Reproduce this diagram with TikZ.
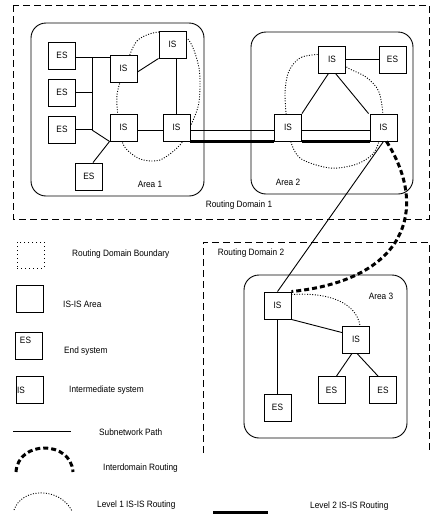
\documentclass[tikz,border=0pt]{standalone}
\usepackage{fontspec}
\setmainfont{Liberation Sans}[FakeStretch=0.9]
\usetikzlibrary{calc}
\begin{document}
\begin{tikzpicture}[x=1pt,y=-1pt,
 every node/.style={font=\fontsize{9.2}{10}\selectfont},
 sysbox/.style={draw,fill=white,minimum width=27pt,minimum height=27pt,inner sep=0pt,line width=0.9pt},
 areabox/.style={draw,rounded corners=15pt,line width=0.9pt},
 rdbox/.style={draw,line width=0.9pt,dash pattern=on 7pt off 4pt},
 cnx/.style={line width=0.9pt},
 lvone/.style={line width=0.9pt,dash pattern=on 1pt off 1.6pt},
 lvtwo/.style={line width=3pt},
 interdom/.style={line width=3pt,dash pattern=on 5pt off 3pt},
 lbl/.style={inner sep=0pt,text height=6.5pt,text depth=2pt}]
\fill[white] (0,0) rectangle (443,523);
\useasboundingbox (0,0) rectangle (443,523);

% domains and areas
\draw[rdbox] (13,5) rectangle (429,219);
\draw[rdbox] (203,453) -- (203,242) -- (429,242) -- (429,453);
\draw[areabox] (31,23) rectangle (204,196);
\draw[areabox] (251,32) rectangle (413,194);
\draw[areabox] (244,275) rectangle (407,438);

% level 1 routing loops
\draw[lvone] plot[smooth cycle] coordinates {(125,68) (137,41) (159,32) (187,38) (199,68) (199,102) (191,125) (180,145) (160,160) (140,159) (124,146) (119,125) (117,95)};
\draw[lvone] plot[smooth cycle] coordinates {(330,55) (302,57) (289,71) (285,95) (289,135) (300,158) (330,168) (357,164) (375,151) (383,122) (379,92) (366,77) (348,68)};

% Area 1
\node[sysbox] (ES1) at (62,55.5) {ES};
\node[sysbox] (ES2) at (62,92.5) {ES};
\node[sysbox] (ES3) at (62,129.5) {ES};
\node[sysbox] (ES4) at (89,176.5) {ES};
\node[sysbox] (ISa) at (123.5,68.5) {IS};
\node[sysbox] (ISb) at (172.5,44.5) {IS};
\node[sysbox] (ISc) at (123.5,127.5) {IS};
\node[sysbox] (ISd) at (176.5,127.5) {IS};
% Area 2
\node[sysbox] (ISt) at (332,59.5) {IS};
\node[sysbox] (ESt) at (392.5,59.5) {ES};
\node[sysbox] (ISe) at (288,127.5) {IS};
\node[sysbox] (ISf) at (383.5,127.5) {IS};
% Area 3
\node[sysbox] (ISg) at (277.5,305.5) {IS};
\node[sysbox] (ISh) at (356,339.5) {IS};
\node[sysbox] (ESi) at (277.5,407.5) {ES};
\node[sysbox] (ESj) at (331.5,390) {ES};
\node[sysbox] (ESk) at (383,390) {ES};

% Area 1 connections
\coordinate (busT) at (92,57);
\coordinate (busB) at (92,130);
\coordinate (e1) at ($(ES1.east)+(0,1.5)$);
\draw[cnx] (e1) -- (e1 -| ISa.west);
\draw[cnx] (busT) -- (busB);
\draw[cnx] (ES2.east) -- (ES2.east -| busT);
\draw[cnx] (ES3.east) -- (ES3.east -| busT);
\draw[cnx] (busB) -- (ISc.south west);
\draw[cnx] ($(ES4.north)+(4,0)$) -- (ISc.south west);
\draw[cnx] ($(ISa.east)+(0,3.5)$) -- (ISb.south west);
\draw[cnx] (ISd.north) -- (ISd.north |- ISb.south);
\draw[cnx] ($(ISc.east)+(0,3)$) -- ($(ISd.west)+(0,3)$);

% Area 2 connections
\draw[cnx] (ISt.east) -- (ESt.west);
\draw[cnx] ($(ISt.south)+(-3.5,0)$) -- (ISe.north east);
\draw[cnx] ($(ISt.south)+(3.5,0)$) -- ($(ISf.north west)+(-1,0)$);
\draw[cnx] ($(ISd.east)+(0,3)$) -- ($(ISe.west)+(0,3)$);
\draw[cnx] ($(ISe.east)+(0,3)$) -- ($(ISf.west)+(0,3)$);
\draw[lvtwo] (ISd.south east) -- (ISe.south west);
\draw[lvtwo] (ISe.south east) -- (ISf.south west);

% inter-domain
\draw[cnx] (ISf.south) -- (ISg.north);
\draw[interdom] ($(ISf.south)+(3,0)$) .. controls (430,210) and (405,280) .. (ISg.north east);

% Area 3 connections
\draw[cnx] (ISg.south) -- (ESi.north);
\draw[cnx] (ISg.south east) -- ($(ISh.north west)+(0,7)$);
\draw[cnx] ($(ISh.south)+(-4,0)$) -- ($(ESj.north)+(5,0)$);
\draw[cnx] ($(ISh.south)+(1,0)$) -- ($(ESk.north)+(-5,0)$);
\draw[lvone] ($(ISg.north east)+(0,3)$) .. controls (330,292) and (356,303) .. ($(ISh.north)+(4,0)$);

% labels
\node[lbl] (A1) at (150,185) {Area 1};
\node[lbl] (A2) at (288,183) {Area 2};
\node[lbl] (A3) at (381,297) {Area 3};
\node[lbl] (RD1) at (239,205) {Routing Domain 1};
\node[lbl] (RD2) at (251,253) {Routing Domain 2};

% legend
\node[draw,line width=0.9pt,dash pattern=on 1pt off 3pt,minimum width=27pt,minimum height=26pt,inner sep=0pt] (LgDom) at (30.5,255) {};
\node[lbl,anchor=west] (LgDomT) at (72,254) {Routing Domain Boundary};
\node[sysbox] (LgArea) at (29.5,298.5) {};
\node[lbl,anchor=west] (LgAreaT) at (63,305) {IS-IS Area};
\node[sysbox] (LgES) at (28.5,345.5) {};
\node[lbl] (LgESin) at (25.5,341) {ES};
\node[lbl,anchor=west] (LgEST) at (64,351) {End system};
\node[sysbox] (LgIS) at (29.5,389.5) {};
\node[lbl] (LgISin) at (21,391) {IS};
\node[lbl,anchor=west] (LgIST) at (69,390) {Intermediate system};
\coordinate (sp1) at (13,431);
\coordinate (sp2) at (71,431);
\draw[cnx] (sp1) -- (sp2);
\node[lbl,anchor=west] (LgSPT) at (99,433) {Subnetwork Path};
\coordinate (id1) at (16,472);
\coordinate (id2) at (73,472);
\draw[interdom] (id1) .. controls (18,440) and (71,440) .. (id2);
\node[lbl,anchor=west] (LgIDT) at (103,468) {Interdomain Routing};
\coordinate (l1a) at (14,510);
\coordinate (l1b) at (72,511);
\draw[lvone] (l1a) .. controls (22,487) and (60,487) .. (l1b);
\node[lbl,anchor=west] (LgL1T) at (97,505) {Level 1 IS-IS Routing};
\coordinate (l2a) at (213,512);
\coordinate (l2b) at (268,512);
\draw[lvtwo] (l2a) -- (l2b);
\node[lbl,anchor=west] (LgL2T) at (310,506) {Level 2 IS-IS Routing};
\end{tikzpicture}
\end{document}
